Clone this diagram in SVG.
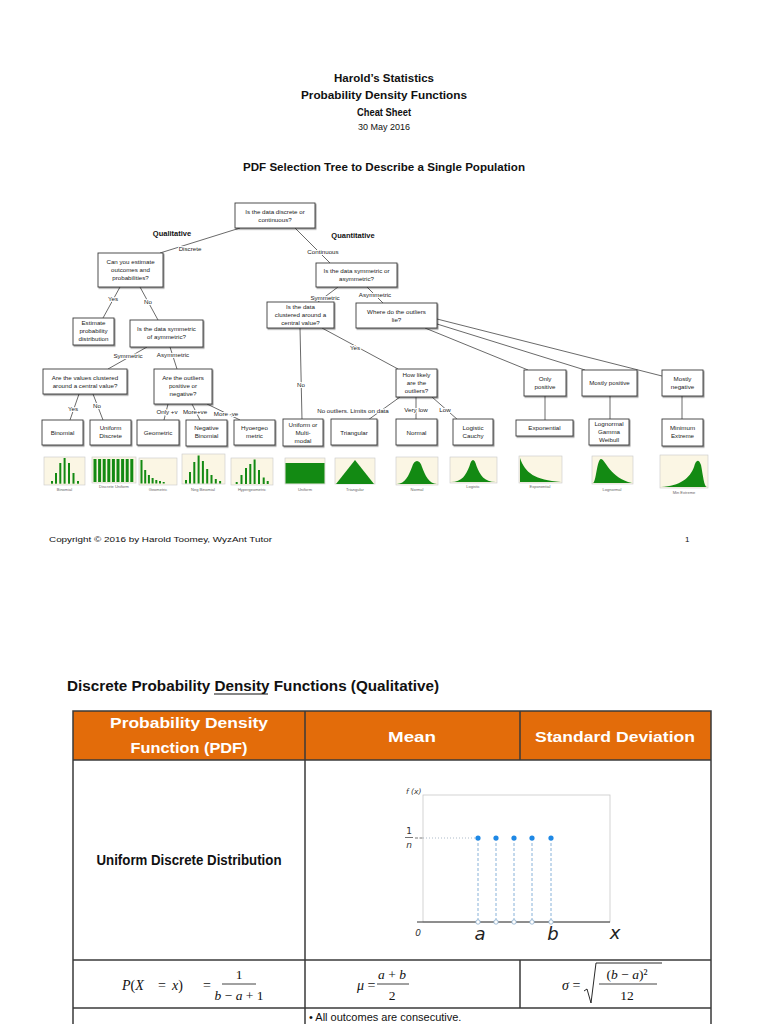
<svg xmlns="http://www.w3.org/2000/svg" width="768" height="1024" viewBox="0 0 768 1024">
<style>
.hd{font-family:"Liberation Sans",Arial,sans-serif;font-weight:bold;fill:#111;text-anchor:middle}
.box{fill:#fff;stroke:#3a3a3a;stroke-width:0.9}
.t{font-family:"Liberation Sans",Arial,sans-serif;font-size:6.2px;fill:#222;text-anchor:middle}
.lb{font-family:"Liberation Sans",Arial,sans-serif;font-size:6.2px;fill:#222;text-anchor:middle;stroke:#fff;stroke-width:2.2px;paint-order:stroke;stroke-linejoin:round}
.cn{stroke:#444;stroke-width:0.8;fill:none}
.th{fill:#fbf6e4;stroke:#c8c8c8;stroke-width:0.6}
.g{fill:#138a13}
.tl{font-family:"Liberation Sans",Arial,sans-serif;font-size:4px;fill:#666;text-anchor:middle}
.tb{stroke:#3a3a3a;stroke-width:1.5;fill:none}
.wh{font-family:"Liberation Sans",Arial,sans-serif;font-weight:bold;fill:#fff;text-anchor:middle;font-size:15.5px}
.m{font-family:"Liberation Serif","Times New Roman",serif;font-size:14px;fill:#111}
.mc{font-family:"Liberation Serif","Times New Roman",serif;font-size:13.5px;fill:#111;text-anchor:middle}
.i{font-style:italic}
</style>
<defs>
<filter id="sh" x="-20%" y="-20%" width="150%" height="160%"><feDropShadow dx="1" dy="1.2" stdDeviation="0.7" flood-color="#000" flood-opacity="0.45"/></filter>
</defs>
<rect width="768" height="1024" fill="#fff"/>

<!-- header -->
<text class="hd" x="384" y="82" font-size="11" textLength="100" lengthAdjust="spacingAndGlyphs">Harold’s Statistics</text>
<text class="hd" x="384" y="99" font-size="11" textLength="166" lengthAdjust="spacingAndGlyphs">Probability Density Functions</text>
<text class="hd" x="384" y="116" font-size="11" textLength="54" lengthAdjust="spacingAndGlyphs">Cheat Sheet</text>
<text x="384" y="130" font-family="Liberation Sans,Arial,sans-serif" font-size="8.5" fill="#111" text-anchor="middle" textLength="52" lengthAdjust="spacingAndGlyphs">30 May 2016</text>
<text class="hd" x="384" y="171" font-size="11.5" textLength="282" lengthAdjust="spacingAndGlyphs">PDF Selection Tree to Describe a Single Population</text>

<text class="hd" x="172" y="236" font-size="7.5">Qualitative</text>
<text class="hd" x="353" y="238" font-size="7.5">Quantitative</text>

<!-- connectors -->
<g id="connectors">
<line class="cn" x1="240" y1="228" x2="160" y2="253"/>
<line class="cn" x1="295" y1="228" x2="330" y2="263"/>
<line class="cn" x1="120" y1="287" x2="103" y2="318"/>
<line class="cn" x1="140" y1="287" x2="158" y2="320"/>
<line class="cn" x1="338" y1="287" x2="318" y2="302"/>
<line class="cn" x1="367" y1="287" x2="383" y2="303"/>
<line class="cn" x1="147" y1="347" x2="108" y2="369"/>
<line class="cn" x1="170" y1="347" x2="177" y2="369"/>
<line class="cn" x1="79" y1="394" x2="70" y2="420"/>
<line class="cn" x1="93" y1="394" x2="103" y2="420"/>
<line class="cn" x1="168" y1="404" x2="164" y2="420"/>
<line class="cn" x1="192" y1="404" x2="200" y2="420"/>
<line class="cn" x1="207" y1="404" x2="240" y2="420"/>
<line class="cn" x1="300" y1="328" x2="302" y2="420"/>
<line class="cn" x1="322" y1="328" x2="398" y2="369"/>
<line class="cn" x1="400" y1="397" x2="368" y2="420"/>
<line class="cn" x1="416" y1="397" x2="416" y2="420"/>
<line class="cn" x1="432" y1="397" x2="458" y2="420"/>
<line class="cn" x1="425" y1="328" x2="528" y2="370"/>
<line class="cn" x1="437" y1="324" x2="585" y2="370"/>
<line class="cn" x1="437" y1="319" x2="662" y2="376"/>
<line class="cn" x1="545" y1="396" x2="545" y2="420"/>
<line class="cn" x1="610" y1="396" x2="610" y2="419"/>
<line class="cn" x1="682" y1="396" x2="682" y2="419"/>
<text class="lb" x="190" y="251">Discrete</text>
<text class="lb" x="323" y="254">Continuous</text>
<text class="lb" x="113" y="301">Yes</text>
<text class="lb" x="148" y="304">No</text>
<text class="lb" x="325" y="300">Symmetric</text>
<text class="lb" x="375" y="297">Asymmetric</text>
<text class="lb" x="128" y="358">Symmetric</text>
<text class="lb" x="173" y="357">Asymmetric</text>
<text class="lb" x="73" y="411">Yes</text>
<text class="lb" x="97" y="408">No</text>
<text class="lb" x="167" y="414">Only +v</text>
<text class="lb" x="195" y="414">More+ve</text>
<text class="lb" x="226" y="416">More -ve</text>
<text class="lb" x="301" y="387">No</text>
<text class="lb" x="355" y="350">Yes</text>
<text class="lb" x="353" y="413">No outliers. Limits on data</text>
<text class="lb" x="416" y="412">Very low</text>
<text class="lb" x="445" y="412">Low</text>
</g>

<!-- nodes -->
<g id="n-root"><rect class="box" filter="url(#sh)" x="235" y="203" width="80" height="25"/><text class="t" x="275" y="213.5">Is the data discrete or</text><text class="t" x="275" y="221.5">continuous?</text></g>
<g id="n-estimate"><rect class="box" filter="url(#sh)" x="98" y="253" width="65" height="34"/><text class="t" x="130.5" y="264">Can you estimate</text><text class="t" x="130.5" y="272">outcomes and</text><text class="t" x="130.5" y="280">probabilities?</text></g>
<g id="n-symq"><rect class="box" filter="url(#sh)" x="316" y="263" width="81" height="24"/><text class="t" x="356.5" y="273">Is the data symmetric or</text><text class="t" x="356.5" y="281">asymmetric?</text></g>
<g id="n-estd"><rect class="box" filter="url(#sh)" x="73" y="318" width="41" height="27"/><text class="t" x="93.5" y="325">Estimate</text><text class="t" x="93.5" y="333">probability</text><text class="t" x="93.5" y="341">distribution</text></g>
<g id="n-symd"><rect class="box" filter="url(#sh)" x="130" y="320" width="73" height="27"/><text class="t" x="166.5" y="331">Is the data symmetric</text><text class="t" x="166.5" y="339">of aymmetric?</text></g>
<g id="n-clus"><rect class="box" filter="url(#sh)" x="267" y="302" width="67" height="26"/><text class="t" x="300.5" y="309">Is the data</text><text class="t" x="300.5" y="317">clustered around a</text><text class="t" x="300.5" y="325">central value?</text></g>
<g id="n-where"><rect class="box" filter="url(#sh)" x="356" y="303" width="81" height="25"/><text class="t" x="396.5" y="314">Where do the outliers</text><text class="t" x="396.5" y="322">lie?</text></g>
<g id="n-valclus"><rect class="box" filter="url(#sh)" x="43" y="369" width="84" height="25"/><text class="t" x="85" y="380">Are the values clustered</text><text class="t" x="85" y="388">around a central value?</text></g>
<g id="n-outpn"><rect class="box" filter="url(#sh)" x="154" y="369" width="58" height="35"/><text class="t" x="183" y="380">Are the outliers</text><text class="t" x="183" y="388">positive or</text><text class="t" x="183" y="396">negative?</text></g>
<g id="n-howlikely"><rect class="box" filter="url(#sh)" x="396" y="369" width="41" height="28"/><text class="t" x="416.5" y="377">How likely</text><text class="t" x="416.5" y="385">are the</text><text class="t" x="416.5" y="393">outliers?</text></g>
<g id="n-onlypos"><rect class="box" filter="url(#sh)" x="524" y="370" width="42" height="26"/><text class="t" x="545" y="381">Only</text><text class="t" x="545" y="389">positive</text></g>
<g id="n-mostpos"><rect class="box" filter="url(#sh)" x="582" y="370" width="55" height="26"/><text class="t" x="609.5" y="385">Mostly positive</text></g>
<g id="n-mostneg"><rect class="box" filter="url(#sh)" x="662" y="370" width="41" height="26"/><text class="t" x="682.5" y="381">Mostly</text><text class="t" x="682.5" y="389">negative</text></g>

<g id="n-binomial"><rect class="box" filter="url(#sh)" x="42" y="420" width="41" height="25"/><text class="t" x="62.5" y="434.5">Binomial</text></g>
<g id="n-unifdisc"><rect class="box" filter="url(#sh)" x="90" y="420" width="41" height="25"/><text class="t" x="110.5" y="430">Uniform</text><text class="t" x="110.5" y="438">Discrete</text></g>
<g id="n-geometric"><rect class="box" filter="url(#sh)" x="137" y="420" width="42" height="25"/><text class="t" x="158" y="434.5">Geometric</text></g>
<g id="n-negbin"><rect class="box" filter="url(#sh)" x="186" y="420" width="41" height="26"/><text class="t" x="206.5" y="430">Negative</text><text class="t" x="206.5" y="438">Binomial</text></g>
<g id="n-hyper"><rect class="box" filter="url(#sh)" x="234" y="420" width="41" height="25"/><text class="t" x="254.5" y="430">Hyoergeo</text><text class="t" x="254.5" y="438">metric</text></g>
<g id="n-unifmulti"><rect class="box" filter="url(#sh)" x="283" y="419" width="40" height="27"/><text class="t" x="303" y="426.5">Uniform or</text><text class="t" x="303" y="434.5">Multi-</text><text class="t" x="303" y="442.5">modal</text></g>
<g id="n-triangular"><rect class="box" filter="url(#sh)" x="331" y="419" width="46" height="26"/><text class="t" x="354" y="434.5">Triangular</text></g>
<g id="n-normal"><rect class="box" filter="url(#sh)" x="396" y="419" width="41" height="26"/><text class="t" x="416.5" y="434.5">Normal</text></g>
<g id="n-logistic"><rect class="box" filter="url(#sh)" x="453" y="419" width="40" height="26"/><text class="t" x="473" y="430">Logistic</text><text class="t" x="473" y="438">Cauchy</text></g>
<g id="n-expon"><rect class="box" filter="url(#sh)" x="516" y="420" width="57" height="16"/><text class="t" x="544.5" y="430">Exponential</text></g>
<g id="n-lognormal"><rect class="box" filter="url(#sh)" x="589" y="419" width="40" height="26"/><text class="t" x="609" y="426">Lognormal</text><text class="t" x="609" y="434">Gamma</text><text class="t" x="609" y="442">Weibull</text></g>
<g id="n-minext"><rect class="box" filter="url(#sh)" x="662" y="419" width="41" height="27"/><text class="t" x="682.5" y="430">Minimum</text><text class="t" x="682.5" y="438">Extreme</text></g>

<!-- thumbnails -->
<g id="thumbs">
<rect class="th" x="44" y="457" width="41" height="28"/>
<g class="g"><rect x="51" y="481" width="2" height="2.7"/><rect x="55" y="473" width="2" height="10.7"/><rect x="59.3" y="463" width="2" height="20.7"/><rect x="63.6" y="458" width="2" height="25.7"/><rect x="68" y="463" width="2" height="20.7"/><rect x="72.5" y="473" width="2" height="10.7"/><rect x="77" y="481" width="2" height="2.7"/></g>
<text class="tl" x="64.5" y="491">Binomial</text>

<rect class="th" x="92" y="457" width="44" height="26"/>
<g class="g"><rect x="93.5" y="459" width="3" height="23"/><rect x="98.1" y="459" width="3" height="23"/><rect x="102.7" y="459" width="3" height="23"/><rect x="107.3" y="459" width="3" height="23"/><rect x="111.9" y="459" width="3" height="23"/><rect x="116.5" y="459" width="3" height="23"/><rect x="121.1" y="459" width="3" height="23"/><rect x="125.7" y="459" width="3" height="23"/><rect x="130.3" y="459" width="3" height="23"/></g>
<text class="tl" x="114" y="488">Discrete Uniform</text>

<rect class="th" x="139" y="458" width="38" height="27"/>
<g class="g"><rect x="140.5" y="460" width="2" height="23.5"/><rect x="144.2" y="470" width="2" height="13.5"/><rect x="147.9" y="475" width="2" height="8.5"/><rect x="151.6" y="478" width="2" height="5.5"/><rect x="155.3" y="480" width="2" height="3.5"/><rect x="159" y="481" width="2" height="2.5"/><rect x="162.7" y="482" width="2" height="1.5"/></g>
<text class="tl" x="158" y="491">Geometric</text>

<rect class="th" x="182" y="454" width="43" height="30"/>
<g class="g"><rect x="185" y="480" width="2" height="3.5"/><rect x="189" y="472" width="2" height="11.5"/><rect x="193.3" y="462" width="2" height="21.5"/><rect x="197.6" y="455.5" width="2" height="28"/><rect x="201.9" y="461" width="2" height="22.5"/><rect x="206.2" y="469" width="2" height="14.5"/><rect x="210.5" y="475" width="2" height="8.5"/><rect x="214.8" y="479" width="2" height="4.5"/><rect x="219.1" y="481" width="2" height="2.5"/></g>
<text class="tl" x="203" y="491">Neg Binomial</text>

<rect class="th" x="231" y="458" width="42" height="27"/>
<g class="g"><rect x="235.7" y="482" width="2" height="2"/><rect x="240.5" y="475" width="2" height="9"/><rect x="245" y="468" width="2" height="16"/><rect x="249.3" y="464" width="2" height="20"/><rect x="253.6" y="459.5" width="2" height="24.5"/><rect x="258" y="470" width="2" height="14"/><rect x="262.7" y="477.5" width="2" height="6.5"/><rect x="266.7" y="481" width="2" height="3"/></g>
<text class="tl" x="252" y="491">Hypergeometric</text>

<rect class="th" x="285" y="458" width="40" height="26"/>
<rect class="g" x="285.5" y="463" width="39" height="20.5"/>
<text class="tl" x="305" y="491">Uniform</text>

<rect class="th" x="335" y="458" width="40" height="26"/>
<path class="g" d="M336,484 L355,460 L374,484 Z"/>
<text class="tl" x="355" y="491">Triangular</text>

<rect class="th" x="396" y="457" width="42" height="28"/>
<path class="g" d="M397,484 C405,484 409,475 412,467 C414,459 420,459 422,467 C425,475 429,484 437,484 Z"/>
<text class="tl" x="417" y="491">Normal</text>

<rect class="th" x="450" y="457" width="47" height="26"/>
<path class="g" d="M451,482 C462,482 466,475 469.5,466 C471.5,458 474.5,458 476.5,466 C480,475 484,482 496,482 Z"/>
<text class="tl" x="473" y="488">Logistic</text>

<rect class="th" x="519" y="456" width="43" height="27"/>
<path class="g" d="M520,458 C525,473 535,480 561,482 L520,482 Z"/>
<text class="tl" x="540" y="488">Exponential</text>

<rect class="th" x="592" y="456" width="41" height="28"/>
<path class="g" d="M593,483 C596,483 597,459 601,459 C605,459 610,478 632,483 Z"/>
<text class="tl" x="612" y="491">Lognormal</text>

<rect class="th" x="660" y="455" width="48" height="33"/>
<path class="g" d="M661,487 C680,486 690,478 694,467 C696,459 699,459 701,465 C703,475 704,487 707,487 Z"/>
<text class="tl" x="684" y="494">Min Extreme</text>
</g>

<text x="49" y="542" font-family="Liberation Sans,Arial,sans-serif" font-size="7.5" fill="#111" textLength="223" lengthAdjust="spacingAndGlyphs">Copyright © 2016 by Harold Toomey, WyzAnt Tutor</text>
<text x="685" y="542" font-family="Liberation Sans,Arial,sans-serif" font-size="8" fill="#111">1</text>

<!-- page 2 -->
<text x="67" y="691" font-family="Liberation Sans,Arial,sans-serif" font-weight="bold" font-size="15" fill="#111" textLength="372" lengthAdjust="spacingAndGlyphs">Discrete Probability Density Functions (Qualitative)</text>
<line x1="214" y1="694" x2="268" y2="694" stroke="#111" stroke-width="1.2"/>

<g id="table">
<rect x="73" y="711" width="638" height="49" fill="#e36c0a"/>
<rect class="tb" x="73" y="711" width="638" height="330"/>
<line class="tb" x1="305" y1="711" x2="305" y2="1041"/>
<line class="tb" x1="520" y1="711" x2="520" y2="760"/>
<line class="tb" x1="520" y1="960" x2="520" y2="1008"/>
<line class="tb" x1="73" y1="760" x2="711" y2="760"/>
<line class="tb" x1="73" y1="960" x2="711" y2="960"/>
<line class="tb" x1="73" y1="1008" x2="711" y2="1008"/>
<text class="wh" x="189" y="728" textLength="158" lengthAdjust="spacingAndGlyphs">Probability Density</text>
<text class="wh" x="189" y="753" textLength="117" lengthAdjust="spacingAndGlyphs">Function (PDF)</text>
<text class="wh" x="412" y="742" textLength="48" lengthAdjust="spacingAndGlyphs">Mean</text>
<text class="wh" x="615" y="742" textLength="160" lengthAdjust="spacingAndGlyphs">Standard Deviation</text>
<text x="189" y="865" font-family="Liberation Sans,Arial,sans-serif" font-weight="bold" font-size="14" fill="#111" text-anchor="middle" textLength="185" lengthAdjust="spacingAndGlyphs">Uniform Discrete Distribution</text>

<text class="m" x="122" y="990"><tspan class="i">P</tspan>(<tspan class="i">X</tspan></text>
<text class="m" x="158" y="990">=</text>
<text class="m" x="172" y="990"><tspan class="i">x</tspan>)</text>
<text class="m" x="203" y="990">=</text>
<text class="mc" x="239" y="979">1</text>
<line x1="222" y1="984" x2="256" y2="984" stroke="#111" stroke-width="0.8"/>
<text class="mc" x="239" y="1000"><tspan class="i">b</tspan> − <tspan class="i">a</tspan> + 1</text>

<text class="m" x="357" y="990"><tspan class="i">μ</tspan> =</text>
<text class="mc" x="392" y="979"><tspan class="i">a</tspan> + <tspan class="i">b</tspan></text>
<line x1="377" y1="984" x2="409" y2="984" stroke="#111" stroke-width="0.8"/>
<text class="mc" x="392" y="1000">2</text>

<text class="m" x="562" y="990"><tspan class="i">σ</tspan> =</text>
<path d="M584,991 L587,989 L591,1003 L596,963 L662,963" fill="none" stroke="#111" stroke-width="0.9"/>
<text class="mc" x="627" y="979">(<tspan class="i">b</tspan> − <tspan class="i">a</tspan>)²</text>
<line x1="599" y1="984" x2="657" y2="984" stroke="#111" stroke-width="0.8"/>
<text class="mc" x="627" y="1000">12</text>

<text x="309" y="1021" font-family="Liberation Sans,Arial,sans-serif" font-size="11" fill="#111">•  All outcomes are consecutive.</text>
</g>

<!-- graph -->
<g id="graph">
<rect x="423" y="795" width="187" height="127" fill="none" stroke="#c8c8c8" stroke-width="0.8"/>
<line x1="417" y1="922" x2="610" y2="922" stroke="#333" stroke-width="1"/>
<line x1="415" y1="838" x2="423" y2="838" stroke="#555" stroke-width="0.8" stroke-dasharray="3,1.5"/>
<line x1="423" y1="838" x2="478" y2="838" stroke="#9ab" stroke-width="0.8" stroke-dasharray="1,2"/>
<g stroke="#6a9fcf" stroke-width="0.8" stroke-dasharray="3,2">
<line x1="478" y1="838" x2="478" y2="922"/><line x1="496" y1="838" x2="496" y2="922"/><line x1="514" y1="838" x2="514" y2="922"/><line x1="532" y1="838" x2="532" y2="922"/><line x1="551" y1="838" x2="551" y2="922"/>
</g>
<g fill="#1e88e5"><circle cx="478" cy="838" r="2.6"/><circle cx="496" cy="838" r="2.6"/><circle cx="514" cy="838" r="2.6"/><circle cx="532" cy="838" r="2.6"/><circle cx="551" cy="838" r="2.6"/></g>
<g fill="#fff" stroke="#8aaccc" stroke-width="0.8"><circle cx="478" cy="922" r="2.2"/><circle cx="496" cy="922" r="2.2"/><circle cx="514" cy="922" r="2.2"/><circle cx="532" cy="922" r="2.2"/><circle cx="551" cy="922" r="2.2"/></g>
<text x="406" y="794" font-family="DejaVu Sans,sans-serif" font-size="7.5" fill="#333" font-style="italic">f (x)</text>
<text x="409" y="834" font-family="DejaVu Sans,sans-serif" font-size="9" fill="#333" text-anchor="middle">1</text>
<line x1="405" y1="837.5" x2="413" y2="837.5" stroke="#333" stroke-width="0.7"/>
<text x="409" y="848" font-family="DejaVu Sans,sans-serif" font-size="9" fill="#333" text-anchor="middle" font-style="italic">n</text>
<text x="418" y="936" font-family="DejaVu Sans,sans-serif" font-size="9" fill="#333" text-anchor="middle" font-style="italic">0</text>
<text x="480" y="940" font-family="DejaVu Sans,sans-serif" font-size="18" fill="#222" text-anchor="middle" font-style="italic">a</text>
<text x="553" y="940" font-family="DejaVu Sans,sans-serif" font-size="18" fill="#222" text-anchor="middle" font-style="italic">b</text>
<text x="615" y="939" font-family="DejaVu Sans,sans-serif" font-size="18" fill="#222" text-anchor="middle" font-style="italic">x</text>
</g>
</svg>
